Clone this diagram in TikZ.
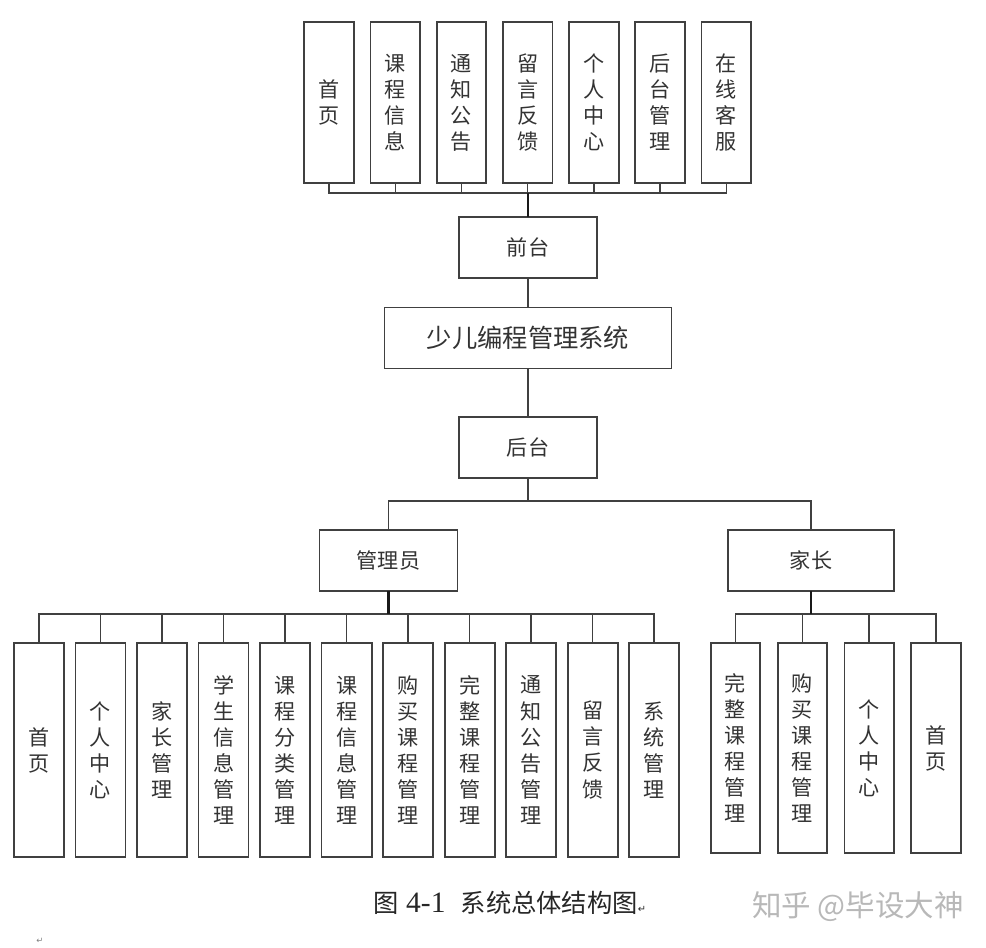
\documentclass[tikz,border=0pt]{standalone}
\usepackage{fontspec}
\setmainfont{Noto Sans CJK SC}
\newfontfamily\numfont{Liberation Serif}
\newfontfamily\symfont{DejaVu Sans}
\usepackage{tikz}
\usetikzlibrary{positioning}

\newcommand{\boxfont}{\fontsize{15pt}{18.5pt}\selectfont}
\newcommand{\titlefont}{\fontsize{18pt}{22pt}\selectfont}

\begin{document}
\begin{tikzpicture}[
  x=0.025cm, y=-0.025cm,
  box/.style={draw=black!75, line width=1.3pt, fill=white, align=center,
              inner sep=0pt, outer sep=0pt, text=black!80, font=\boxfont},
  hbox/.style={box, minimum width=3.45cm, minimum height=1.525cm},
  fbox/.style={box, minimum width=1.24cm, minimum height=4.025cm},
  abox/.style={box, minimum width=1.25cm, minimum height=5.35cm},
  pbox/.style={box, minimum width=1.2375cm, minimum height=5.25cm},
  line/.style={draw=black!75, line width=1pt},
  trunk/.style={draw=black!90, line width=2pt},
  captext/.style={font=\fontsize{18pt}{21pt}\selectfont, text=black!85, inner sep=0pt},
  wmark/.style={font=\fontsize{21pt}{24pt}\selectfont, text=black!28, inner sep=0pt}
]
\useasboundingbox (0,0) rectangle (986,947);

% Front-end modules
\node[fbox] (f1) at (329,102.5) {首\\页};
\node[fbox, right=0.415cm of f1] (f2) {课\\程\\信\\息};
\node[fbox, right=0.415cm of f2] (f3) {通\\知\\公\\告};
\node[fbox, right=0.415cm of f3] (f4) {留\\言\\反\\馈};
\node[fbox, right=0.415cm of f4] (f5) {个\\人\\中\\心};
\node[fbox, right=0.415cm of f5] (f6) {后\\台\\管\\理};
\node[fbox, right=0.415cm of f6] (f7) {在\\线\\客\\服};

% Middle column
\node[hbox] (qt) at (528,247.5) {前台};
\node[hbox, minimum width=7.175cm, font=\titlefont] (sys) at (528,338) {少儿编程管理系统};
\node[hbox] (ht) at (528,447.5) {后台};
\node[hbox] (gly) at (388.5,560.5) {管理员};
\node[hbox, minimum width=4.15cm] (jz) at (811,560.5) {家长};

% Admin modules
\node[abox] (a1) at (39,750) {首\\页};
\node[abox, right=0.2875cm of a1] (a2) {个\\人\\中\\心};
\node[abox, right=0.2875cm of a2] (a3) {家\\长\\管\\理};
\node[abox, right=0.2875cm of a3] (a4) {学\\生\\信\\息\\管\\理};
\node[abox, right=0.2875cm of a4] (a5) {课\\程\\分\\类\\管\\理};
\node[abox, right=0.2875cm of a5] (a6) {课\\程\\信\\息\\管\\理};
\node[abox, right=0.2875cm of a6] (a7) {购\\买\\课\\程\\管\\理};
\node[abox, right=0.2875cm of a7] (a8) {完\\整\\课\\程\\管\\理};
\node[abox, right=0.2875cm of a8] (a9) {通\\知\\公\\告\\管\\理};
\node[abox, right=0.2875cm of a9] (a10) {留\\言\\反\\馈};
\node[abox, right=0.2875cm of a10] (a11) {系\\统\\管\\理};

% Parent modules
\node[pbox] (p1) at (735.5,748) {完\\整\\课\\程\\管\\理};
\node[pbox, right=0.433cm of p1] (p2) {购\\买\\课\\程\\管\\理};
\node[pbox, right=0.433cm of p2] (p3) {个\\人\\中\\心};
\node[pbox, right=0.433cm of p3] (p4) {首\\页};

% Connectors
\draw[line] (qt.north) -- ++(0,-24) -| (f1.south);
\draw[line] (qt.north) -- ++(0,-24) -| (f2.south);
\draw[line] (qt.north) -- ++(0,-24) -| (f3.south);
\draw[line] (qt.north) -- ++(0,-24) -| (f4.south);
\draw[line] (qt.north) -- ++(0,-24) -| (f5.south);
\draw[line] (qt.north) -- ++(0,-24) -| (f6.south);
\draw[line] (qt.north) -- ++(0,-24) -| (f7.south);
\draw[line] (qt) -- (sys);
\draw[line] (sys) -- (ht);
\draw[line] (ht.south) -- ++(0,23) -| (gly.north);
\draw[line] (ht.south) -- ++(0,23) -| (jz.north);
\draw[line] (gly.south) -- ++(0,23) -| (a1.north);
\draw[line] (gly.south) -- ++(0,23) -| (a2.north);
\draw[line] (gly.south) -- ++(0,23) -| (a3.north);
\draw[line] (gly.south) -- ++(0,23) -| (a4.north);
\draw[line] (gly.south) -- ++(0,23) -| (a5.north);
\draw[line] (gly.south) -- ++(0,23) -| (a6.north);
\draw[line] (gly.south) -- ++(0,23) -| (a7.north);
\draw[line] (gly.south) -- ++(0,23) -| (a8.north);
\draw[line] (gly.south) -- ++(0,23) -| (a9.north);
\draw[line] (gly.south) -- ++(0,23) -| (a10.north);
\draw[line] (gly.south) -- ++(0,23) -| (a11.north);
\draw[line] (jz.south) -- ++(0,23) -| (p1.north);
\draw[line] (jz.south) -- ++(0,23) -| (p2.north);
\draw[line] (jz.south) -- ++(0,23) -| (p3.north);
\draw[line] (jz.south) -- ++(0,23) -| (p4.north);
\draw[trunk] (qt.north) -- ++(0,-24);
\draw[trunk] (gly.south) -- ++(0,23);
\draw[trunk] (jz.south) -- ++(0,23);

% Caption and marks
\node[captext, anchor=west] (capt) at (373,903) {图\hspace{0.3em}{\numfont\fontsize{21pt}{24pt}\selectfont 4-1}\hspace{0.6em}系统总体结构图{\symfont\fontsize{7pt}{8pt}\selectfont ↵}};
\node[wmark, anchor=west] (zh) at (752,907) {知乎 @毕设大神};
\node[text=black!50, inner sep=0pt, font=\symfont\fontsize{6pt}{7pt}\selectfont] (pm) at (40,941) {↵};
\end{tikzpicture}
\end{document}
